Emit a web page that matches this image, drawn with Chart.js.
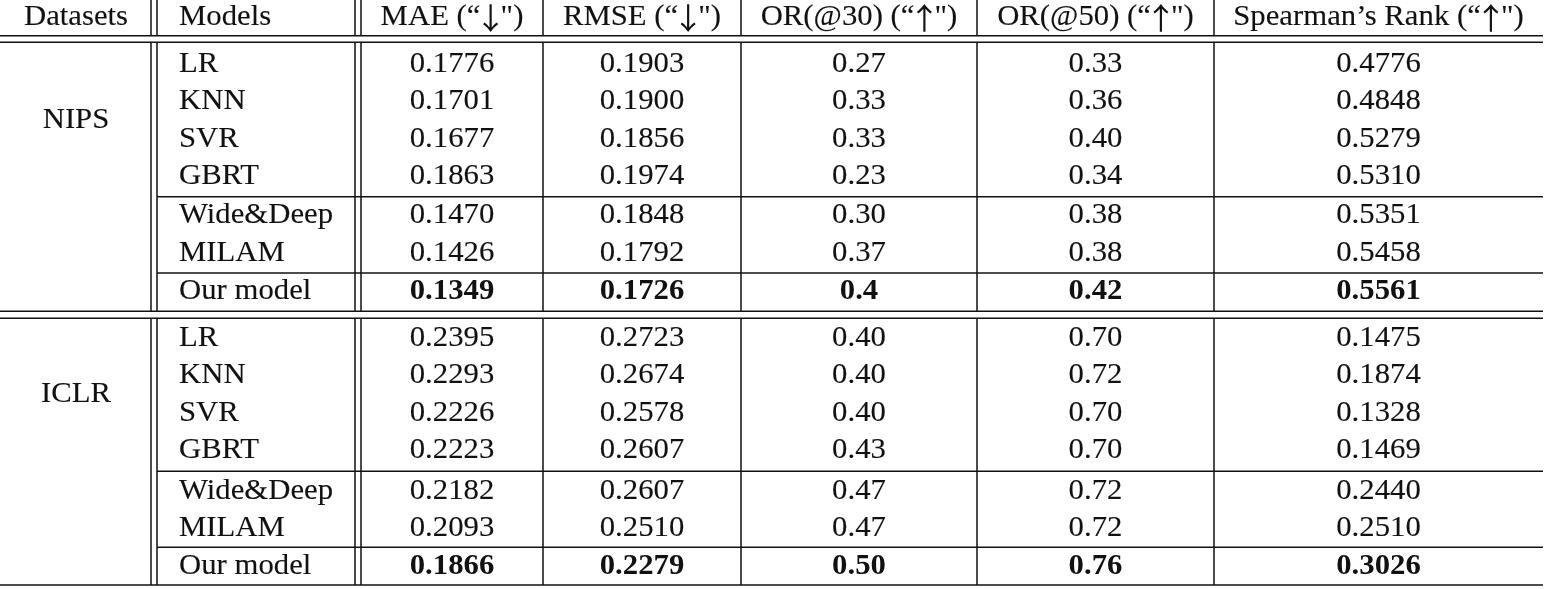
<!DOCTYPE html>
<html>
<head>
<meta charset="utf-8">
<script src="https://cdn.jsdelivr.net/npm/chart.js@4"></script>
<style>
  html, body { margin: 0; background: #fff; }
  canvas { display: block; }
</style>
</head>
<body>
<canvas id="table" width="1548" height="589"></canvas>
<script>
// table content
const headers = ['Datasets', 'Models', 'MAE (“↓")', 'RMSE (“↓")', 'OR(@30) (“↑")', 'OR(@50) (“↑")', 'Spearman’s Rank (“↑")']
const groups = ['NIPS', 'ICLR']
const models = ['LR', 'KNN', 'SVR', 'GBRT', 'Wide&Deep', 'MILAM', 'Our model']

const maeNips = ['0.1776', '0.1701', '0.1677', '0.1863', '0.1470', '0.1426', '0.1349']
const rmseNips = ['0.1903', '0.1900', '0.1856', '0.1974', '0.1848', '0.1792', '0.1726']
const or30Nips = ['0.27', '0.33', '0.33', '0.23', '0.30', '0.37', '0.4']
const or50Nips = ['0.33', '0.36', '0.40', '0.34', '0.38', '0.38', '0.42']
const spearmanNips = ['0.4776', '0.4848', '0.5279', '0.5310', '0.5351', '0.5458', '0.5561']

const maeIclr = ['0.2395', '0.2293', '0.2226', '0.2223', '0.2182', '0.2093', '0.1866']
const rmseIclr = ['0.2723', '0.2674', '0.2578', '0.2607', '0.2607', '0.2510', '0.2279']
const or30Iclr = ['0.40', '0.40', '0.40', '0.43', '0.47', '0.47', '0.50']
const or50Iclr = ['0.70', '0.72', '0.70', '0.70', '0.72', '0.72', '0.76']
const spearmanIclr = ['0.1475', '0.1874', '0.1328', '0.1469', '0.2440', '0.2510', '0.3026']

// layout (in scale units, same as page pixels)
const colX = [76, 179, 452, 642, 859, 1095.5, 1378.5]
const colAlign = ['center', 'left', 'center', 'center', 'center', 'center', 'center']
const headY = 15
const rowY = [[62, 99.5, 137, 174, 213, 251, 289], [336, 373, 411, 448, 489, 526, 564]]
const groupY = [118, 392]
const tableRight = 1543
const hRules = [[35.7, 0], [42.3, 0], [196.7, 157], [273, 157], [311.3, 0], [318.3, 0], [471.3, 157], [547.3, 157], [585, 0]]
const vRules = [151, 157, 355, 361, 543, 741, 977, 1214]
const vSpans = [[0, 35.7], [42.3, 311.3], [318.3, 585]]
const bestRow = models.length - 1

const metricCols = [[maeNips, maeIclr], [rmseNips, rmseIclr], [or30Nips, or30Iclr], [or50Nips, or50Iclr], [spearmanNips, spearmanIclr]]

const textFont = '"Liberation Serif", "DejaVu Serif", serif'
const arrowFont = '30px "Noto Sans CJK JP", "DejaVu Sans", sans-serif'
const arrowAdvance = 19

const makeColumn = (c) => {
    let data = [{ x: colX[c], y: headY, text: headers[c], bold: false }]
    if (c === 0) {
        groups.forEach((g, gi) => data.push({ x: colX[c], y: groupY[gi], text: g, bold: false }))
    } else if (c === 1) {
        groups.forEach((g, gi) => models.forEach((m, r) => data.push({ x: colX[c], y: rowY[gi][r], text: m, bold: false })))
    } else {
        metricCols[c - 2].forEach((vals, gi) => vals.forEach((v, r) => data.push({ x: colX[c], y: rowY[gi][r], text: v, bold: r === bestRow })))
    }
    return { label: headers[c], data, align: colAlign[c], pointRadius: 0, pointHoverRadius: 0 }
}

// draws a string, giving the arrows their own (taller) font
const drawRich = (ctx, text, align, font, bold) => {
    let parts = text.split(/([↑↓])/).filter(p => p.length)
    let widths = parts.map(p => {
        if (p === '↑' || p === '↓') return arrowAdvance
        ctx.font = font
        return ctx.measureText(p).width
    })
    let total = widths.reduce((a, b) => a + b, 0)
    let cx = align === 'center' ? -total / 2 : 0
    ctx.textAlign = 'left'
    parts.forEach((p, k) => {
        if (p === '↑' || p === '↓') {
            ctx.font = arrowFont
            ctx.textAlign = 'center'
            ctx.fillText(p, cx + arrowAdvance / 2, 4)
            ctx.textAlign = 'left'
        } else {
            ctx.font = font
            ctx.fillText(p, cx, 0)
            if (!bold) ctx.strokeText(p, cx, 0)
        }
        cx += widths[k]
    })
}

const tableRules = {
    id: 'tableRules',
    beforeDatasetsDraw(chart) {
        const { ctx, scales: { x, y } } = chart
        ctx.save()
        ctx.strokeStyle = '#111'
        ctx.lineWidth = 1.5
        hRules.forEach(([ry, from]) => {
            ctx.beginPath()
            ctx.moveTo(x.getPixelForValue(from), y.getPixelForValue(ry))
            ctx.lineTo(x.getPixelForValue(tableRight), y.getPixelForValue(ry))
            ctx.stroke()
        })
        vRules.forEach(rx => {
            vSpans.forEach(([a, b]) => {
                ctx.beginPath()
                ctx.moveTo(x.getPixelForValue(rx), y.getPixelForValue(a))
                ctx.lineTo(x.getPixelForValue(rx), y.getPixelForValue(b))
                ctx.stroke()
            })
        })
        ctx.restore()
    }
}

const cellText = {
    id: 'cellText',
    afterDatasetsDraw(chart) {
        const ctx = chart.ctx
        chart.data.datasets.forEach((ds, i) => {
            chart.getDatasetMeta(i).data.forEach((pt, j) => {
                const cell = ds.data[j]
                ctx.save()
                ctx.fillStyle = '#111'
                ctx.strokeStyle = '#111'
                ctx.lineWidth = 0.12
                ctx.textBaseline = 'alphabetic'
                ctx.translate(pt.x, pt.y + 9.6)
                ctx.scale(1.06, 1)
                drawRich(ctx, cell.text, ds.align, `${cell.bold ? 'bold ' : ''}29px ${textFont}`, cell.bold)
                ctx.restore()
            })
        })
    }
}

new Chart(document.getElementById('table'), {
    type: 'scatter',
    data: { datasets: headers.map((h, c) => makeColumn(c)) },
    options: {
        responsive: false,
        animation: false,
        events: [],
        layout: { padding: 0 },
        plugins: { legend: { display: false }, tooltip: { enabled: false } },
        scales: {
            x: { type: 'linear', min: 0, max: 1548, display: false },
            y: { type: 'linear', min: 0, max: 589, reverse: true, display: false }
        }
    },
    plugins: [tableRules, cellText]
})
</script>
</body>
</html>
